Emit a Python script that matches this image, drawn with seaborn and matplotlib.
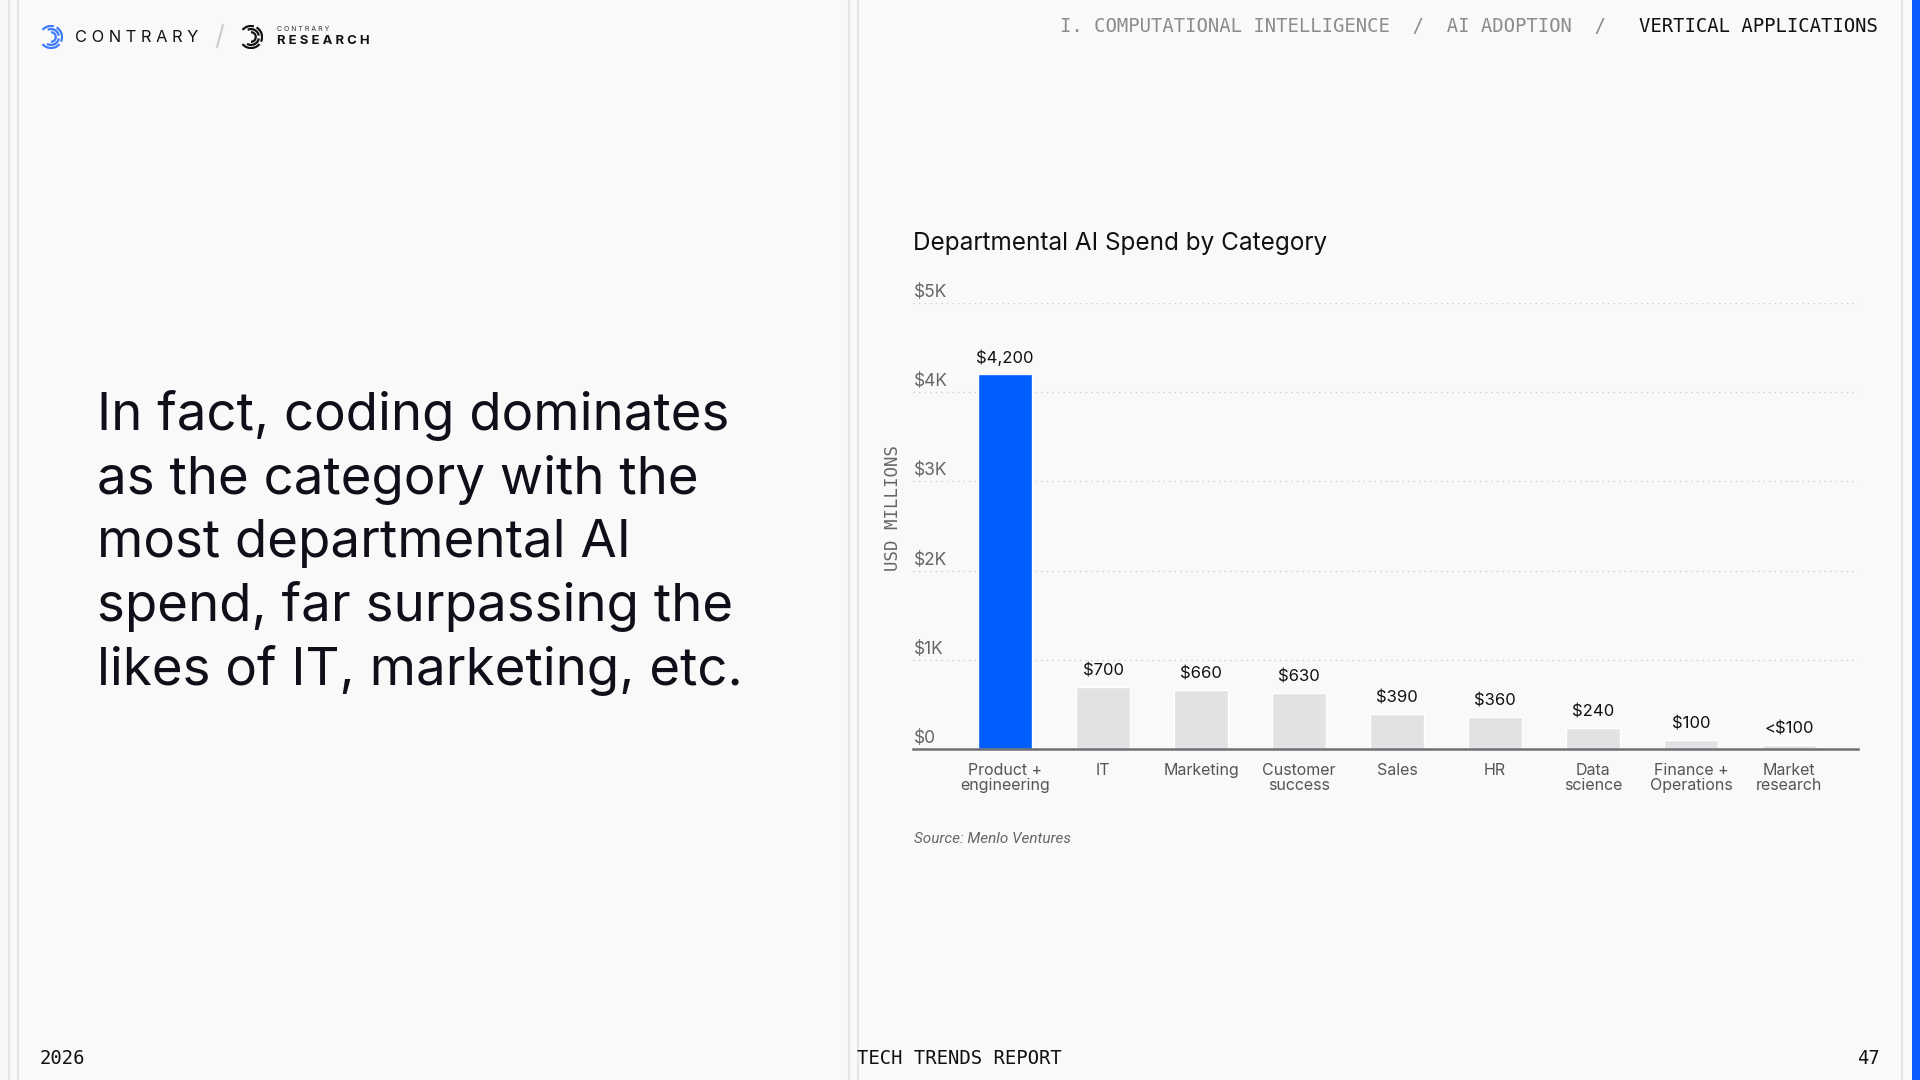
import numpy as np
import pandas as pd
import seaborn as sns
import matplotlib.pyplot as plt
from matplotlib.patches import Arc, Rectangle
from matplotlib.lines import Line2D

# chart data
categories = ['Product +\nengineering', 'IT', 'Marketing', 'Customer\nsuccess', 'Sales', 'HR',
              'Data\nscience', 'Finance +\nOperations', 'Market\nresearch']
spend = [4200, 700, 660, 630, 390, 360, 240, 100, 50]
spend_labels = ['$4,200', '$700', '$660', '$630', '$390', '$360', '$240', '$100', '<$100']
y_ticks = [0, 1000, 2000, 3000, 4000, 5000]
y_tick_labels = ['$0', '$1K', '$2K', '$3K', '$4K', '$5K']
bar_colors = ['#005eff'] + ['#e1e2e4'] * 8

body_lines = ['In fact, coding dominates',
              'as the category with the',
              'most departmental AI',
              'spend, far surpassing the',
              'likes of IT, marketing, etc.']
crumbs_grey = 'I. COMPUTATIONAL INTELLIGENCE  /  AI ADOPTION  /'
crumb_current = 'VERTICAL APPLICATIONS'

BG = '#f9f9f9'
W, H = 1920, 1080


def fx(px):
    return px / W


def fy(py):
    return 1 - py / H


sns.set_theme(style='white')
plt.rcParams['font.family'] = ['Inter', 'DejaVu Sans']
MONO = ['DejaVu Sans Mono']

fig = plt.figure(figsize=(19.2, 10.8), dpi=100, facecolor=BG)

# page frame lines + blue edge
for x in [9, 18, 849, 858, 1902]:
    fig.add_artist(Line2D([fx(x), fx(x)], [0, 1], transform=fig.transFigure, color='#e6e6e6', lw=1.5))
fig.add_artist(Rectangle((fx(1912), 0), fx(8), 1, transform=fig.transFigure, color='#0a5cff', lw=0))

# ---- chart ----
ax = fig.add_axes([fx(913), fy(749), fx(1858 - 913), (749 - 303) / H])
ax.set_facecolor(BG)
df = pd.DataFrame({'category': categories, 'spend': spend})
sns.barplot(data=df, x='category', y='spend', hue='category', palette=bar_colors,
            legend=False, width=0.56, saturation=1, ax=ax)

for cont, lab in zip(ax.containers, spend_labels):
    ax.bar_label(cont, labels=[lab], padding=6, fontsize=12, color='#111111')

ax.set_xlim(-0.939, 8.704)
ax.set_ylim(0, 5000)
ax.set_yticks(y_ticks)
ax.yaxis.grid(True, linestyle=(0, (1, 3)), color='#cccccc', lw=1)
ax.set_axisbelow(True)
ax.tick_params(axis='y', length=0, labelleft=False)
ax.tick_params(axis='x', length=5, width=1.2, color='#707074', pad=5,
               labelsize=11.5, labelcolor='#555555')
for lbl in ax.get_xticklabels():
    lbl.set_linespacing(1.0)
for side in ['left', 'top', 'right']:
    ax.spines[side].set_visible(False)
ax.spines['bottom'].set_color('#707074')
ax.spines['bottom'].set_linewidth(1.8)
ax.set_xlabel('')
ax.set_ylabel('')

for v, lab in zip(y_ticks, y_tick_labels):
    ax.annotate(lab, xy=(0, v), xycoords=ax.get_yaxis_transform(), xytext=(1, 7.5),
                textcoords='offset points', ha='left', va='center', fontsize=12.5, color='#666666')

fig.text(fx(913), fy(244), 'Departmental AI Spend by Category', fontsize=17.5,
         color='#111111', ha='left', va='center')
fig.text(fx(893), fy(508), 'USD MILLIONS', rotation=90, family=MONO, fontsize=12.5,
         color='#666666', ha='center', va='center')
fig.text(fx(914), fy(839), 'Source: Menlo Ventures', family=['Roboto'], style='italic',
         fontsize=11, color='#666666', ha='left', va='center')

# ---- left body text ----
for i, line in enumerate(body_lines):
    fig.text(fx(97), fy(430 + i * 63.7), line, fontsize=38, color='#0f0f1a',
             ha='left', va='baseline')

# ---- header ----
fig.text(fx(1060), fy(27), crumbs_grey, family=MONO, fontsize=13.6, color='#8c8c8c',
         ha='left', va='center')
fig.text(fx(1639), fy(27), crumb_current, family=MONO, fontsize=13.6, color='#111111',
         ha='left', va='center')


def draw_icon(cx, cy, color):
    lax = fig.add_axes([fx(cx - 12), fy(cy + 12), fx(24), 24 / H])
    lax.set_xlim(-1, 1)
    lax.set_ylim(-1, 1)
    lax.axis('off')
    for r, segs in [(0.92, [(-140, -40), (-25, 60), (75, 140)]),
                    (0.66, [(-120, -10), (10, 115)]),
                    (0.40, [(-90, 90)])]:
        for t1, t2 in segs:
            lax.add_patch(Arc((0, 0), 2 * r, 2 * r, theta1=t1, theta2=t2, color=color, lw=1.6))


draw_icon(51, 37, '#3d7bff')
draw_icon(251, 37, '#111111')
fig.text(fx(75), fy(37), ' '.join('CONTRARY'), fontsize=11.8, color='#111111',
         ha='left', va='center')
fig.add_artist(Line2D([fx(217), fx(223)], [fy(47), fy(25)], transform=fig.transFigure,
                      color='#cccccc', lw=1.5))
fig.text(fx(277), fy(29), ' '.join('CONTRARY'), fontsize=5, color='#333333',
         ha='left', va='center')
fig.text(fx(277), fy(41.5), ' '.join('RESEARCH'), fontsize=9.4, fontweight='bold',
         color='#111111', ha='left', va='center')

# ---- footer ----
fig.text(fx(40), fy(1059), '2026', family=MONO, fontsize=13.6, color='#111111', ha='left', va='center')
fig.text(fx(857), fy(1059), 'TECH TRENDS REPORT', family=MONO, fontsize=13.6, color='#111111',
         ha='left', va='center')
fig.text(fx(1880), fy(1059), '47', family=MONO, fontsize=13.6, color='#111111', ha='right', va='center')

fig.savefig('out.png', dpi=100, facecolor=BG)
